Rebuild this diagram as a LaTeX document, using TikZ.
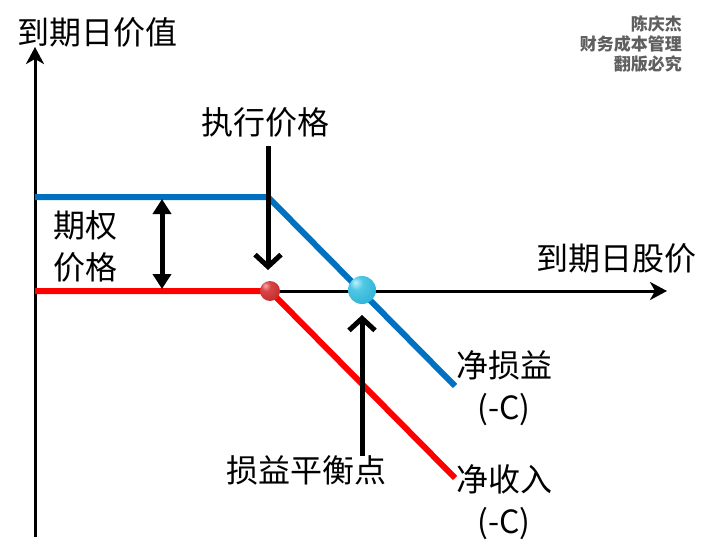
\documentclass[tikz,border=0pt]{standalone}
\usepackage{fontspec}
\setmainfont{Noto Sans CJK SC}
\usetikzlibrary{arrows.meta,shadings}
\definecolor{myblue}{RGB}{0,112,192}
\definecolor{myred}{RGB}{255,0,0}
\definecolor{wmgray}{RGB}{95,95,95}
\pgfdeclareradialshading{redball}{\pgfpoint{-12bp}{14bp}}{%
  color(0bp)=(rgb,255:red,250;green,170;blue,170);
  color(12bp)=(rgb,255:red,215;green,70;blue,70);
  color(40bp)=(rgb,255:red,190;green,40;blue,40);
  color(62bp)=(rgb,255:red,130;green,25;blue,25);
  color(80bp)=(rgb,255:red,120;green,20;blue,20)}
\pgfdeclareradialshading{blueball}{\pgfpoint{-12bp}{14bp}}{%
  color(0bp)=(rgb,255:red,190;green,240;blue,250);
  color(12bp)=(rgb,255:red,80;green,200;blue,230);
  color(40bp)=(rgb,255:red,40;green,175;blue,210);
  color(62bp)=(rgb,255:red,20;green,115;blue,150);
  color(80bp)=(rgb,255:red,15;green,100;blue,135)}
\begin{document}
\begin{tikzpicture}[x=1pt,y=-1pt,
  lbl/.style={font=\fontsize{32}{42}\selectfont, align=center, inner sep=0pt},
  wm/.style={font=\fontsize{17}{20}\selectfont\bfseries, text=wmgray, align=right, inner sep=0pt, anchor=north east},
  axisline/.style={line width=3pt, -{Stealth[length=17pt,width=18pt,inset=5pt]}},
  payoff/.style={line width=6pt},
  pointer/.style={line width=5pt, -{Straight Barb[length=12pt,width=26pt]}},
  dbl/.style={line width=5pt, {Triangle[length=15pt,width=18pt]}-{Triangle[length=15pt,width=18pt]}}
]
\path[use as bounding box] (0,0) rectangle (719,548);
% coordinates
\coordinate (ybot) at (35,537);
\coordinate (ytop) at (35,47);
\coordinate (O) at (35,291);
\coordinate (xend) at (667,291);
\coordinate (bstart) at (35,197);
\coordinate (bcorner) at (268,197);
\coordinate (bend) at (455,386);
\coordinate (rend) at (455,478);
\coordinate (d1) at (162,199);
\coordinate (d2) at (162,289);
\coordinate (kdtop) at (268,146);
\coordinate (kdtip) at (268,270);
\coordinate (beup) at (362,456);
\coordinate (betip) at (362,315);
% axes
\draw[axisline] (ybot) -- (ytop);
\draw[axisline] (O) -- (xend);
% payoff lines
\draw[payoff, myblue] (bstart) -- (bcorner) -- (bend);
\node[circle, inner sep=0pt, minimum size=20pt] (K) at (270,291) {};
\draw[payoff, myred] (O) -- (K.center) -- (rend);
% dots
\shade[shading=redball] (K.center) circle[radius=10pt];
\node[circle, inner sep=0pt, minimum size=28pt] (BE) at (362,290) {};
\shade[shading=blueball] (BE.center) circle[radius=14pt];
% arrows
\draw[dbl] (d1) -- (d2);
\draw[pointer] (kdtop) -- (kdtip);
\draw[pointer] (beup) -- (betip);
% labels
\node[lbl] (yl) at (97,32) {到期日价值};
\node[lbl] (kl) at (265,122) {执行价格};
\node[lbl] (ql) at (85,246) {期权\\价格};
\node[lbl] (xl) at (616,258) {到期日股价};
\node[lbl] (nl) at (504,388) {净损益\\(-C)};
\node[lbl] (bl) at (306,470) {损益平衡点};
\node[lbl] (rl) at (504,502) {净收入\\(-C)};
\node[wm] (w) at (682,16) {陈庆杰\\财务成本管理\\翻版必究};
\end{tikzpicture}
\end{document}
